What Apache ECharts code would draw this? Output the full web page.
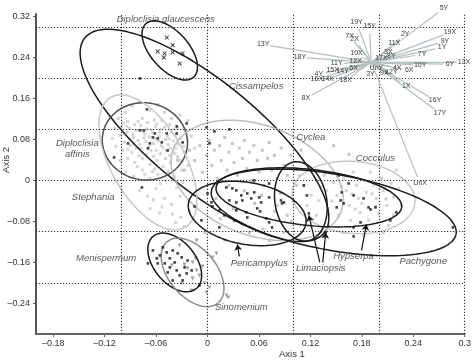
<!DOCTYPE html>
<html>
<head>
<meta charset="utf-8">
<script src="https://cdn.jsdelivr.net/npm/echarts@6/dist/echarts.min.js"></script>
<style>html,body{margin:0;padding:0;background:#fff}#c{width:474px;height:361px}</style>
</head>
<body>
<div id="c"></div>
<script>
// ---------- axes ----------
const xTicks = [-0.18, -0.12, -0.06, 0, 0.06, 0.12, 0.18, 0.24, 0.3];
const yTicks = [-0.24, -0.16, -0.08, 0, 0.08, 0.16, 0.24, 0.32];
const gridX = [-0.1, 0, 0.1, 0.2, 0.3];
const gridY = [-0.2, -0.1, 0, 0.1, 0.2, 0.3];

// ---------- point groups (Axis 1, Axis 2) ----------
const lightPts = [[-0.104,0.121],[-0.096,0.133],[-0.088,0.145],[-0.079,0.152],[-0.067,0.137],[-0.058,0.148],[-0.050,0.133],[-0.042,0.121],[-0.032,0.127],[-0.023,0.117],
[-0.108,0.102],[-0.100,0.105],[-0.093,0.115],[-0.085,0.109],[-0.076,0.121],[-0.070,0.113],[-0.061,0.105],[-0.053,0.117],[-0.044,0.109],[-0.035,0.102],[-0.025,0.094],
[-0.111,0.082],[-0.102,0.088],[-0.094,0.094],[-0.086,0.084],[-0.081,0.078],[-0.073,0.090],[-0.065,0.098],[-0.056,0.086],[-0.049,0.080],[-0.042,0.094],[-0.032,0.082],[-0.019,0.086],
[-0.107,0.066],[-0.099,0.059],[-0.090,0.068],[-0.083,0.063],[-0.076,0.055],[-0.068,0.066],[-0.060,0.059],[-0.052,0.064],[-0.044,0.049],[-0.037,0.063],[-0.027,0.055],[-0.015,0.063],
[-0.102,0.039],[-0.093,0.043],[-0.085,0.035],[-0.076,0.043],[-0.067,0.031],[-0.059,0.039],[-0.052,0.027],[-0.043,0.035],[-0.032,0.039],[-0.023,0.029],
[-0.095,0.016],[-0.086,0.008],[-0.076,0.020],[-0.067,0.004],[-0.058,0.012],[-0.049,0],[-0.039,0.008],[-0.029,-0.004],
[-0.079,-0.020],[-0.070,-0.031],[-0.060,-0.016],[-0.050,-0.035],[-0.042,-0.047],[-0.032,-0.031],[-0.021,-0.059],[-0.056,-0.063],[-0.037,-0.082],[-0.067,-0.055],[-0.027,-0.090],[-0.046,-0.098],
[-0.098,0.112],[-0.091,0.101],[-0.083,0.098],[-0.078,0.107],[-0.071,0.100],[-0.064,0.093],[-0.059,0.110],[-0.054,0.100],[-0.047,0.087],[-0.039,0.100],
[-0.097,0.075],[-0.090,0.081],[-0.079,0.070],[-0.072,0.076],[-0.063,0.072],[-0.057,0.077],[-0.046,0.070],[-0.040,0.077],[-0.034,0.071],[-0.028,0.067],
[-0.088,0.054],[-0.080,0.048],[-0.071,0.050],[-0.063,0.047],[-0.055,0.052],[-0.048,0.058],[-0.040,0.056],[-0.035,0.046],[-0.030,0.020],[-0.062,0.022],
[-0.094,0.106],[-0.087,0.090],[-0.081,0.115],[-0.075,0.096],[-0.068,0.085],[-0.062,0.118],[-0.056,0.094],[-0.050,0.104],[-0.045,0.081],[-0.037,0.088],
[-0.093,0.061],[-0.086,0.072],[-0.078,0.062],[-0.074,0.083],[-0.066,0.058],[-0.061,0.081],[-0.054,0.068],[-0.049,0.043],[-0.043,0.063],[-0.038,0.052],
[-0.082,0.027],[-0.073,0.012],[-0.064,0.017],[-0.055,-0.006],[-0.046,0.018],[-0.036,-0.014],[-0.063,-0.038],[-0.053,-0.052],[-0.041,-0.066],[-0.031,-0.072]];

const cycleaPts = [[-0.035,0.039],[-0.027,0.020],[-0.021,0.059],[-0.015,0.039],[-0.009,0.068],[-0.006,0.016],[-0.001,0.049],[0.002,0.078],[0.005,0.029],[0.008,0.059],[0.012,0.004],[0.014,0.068],[0.016,0.039],[0.020,0.084],[0.023,0.020],[0.025,0.055],[0.029,0.072],[0.031,0.035],[0.035,0.010],[0.037,0.063],[0.041,0.043],[0.043,0.078],[0.046,0.023],[0.049,0.055],[0.052,0],[0.054,0.068],[0.058,0.039],[0.060,0.016],[0.064,0.059],[0.066,-0.010],[0.070,0.043],[0.072,0.074],[0.075,0.020],[0.078,0.049],[0.081,0.004],[0.086,0.063],[0.089,0.029],[0.093,0.010],[0.097,0.049],[0.101,0.023],[0.104,-0.010],[0.109,0.059],[0.025,-0.010],[0.043,-0.020],[0.063,-0.029],[0.081,-0.049],[0.093,-0.068],[0.049,-0.102],[0.072,-0.117],[0.020,-0.117],[-0.003,-0.102],[0.089,-0.102],[0.147,0.068],[0.165,0.051],
[0.010,-0.035],[0.030,-0.055],[0.055,-0.045],[0.078,-0.060],[0.098,-0.080],[0.040,-0.085],[0.065,-0.095],[0.015,-0.075],[0.085,-0.025],[0.100,-0.040]];

const cocculusPts = [[0.107,0.010],[0.112,-0.010],[0.118,0.020],[0.121,-0.029],[0.127,0],[0.130,-0.039],[0.136,0.010],[0.139,-0.020],[0.141,-0.055],[0.147,-0.004],[0.151,-0.029],[0.153,-0.068],[0.159,0.004],[0.162,-0.020],[0.165,-0.049],[0.167,-0.078],[0.170,0.016],[0.174,-0.010],[0.176,-0.035],[0.178,-0.063],[0.182,0],[0.185,-0.023],[0.188,-0.078],[0.190,0.016],[0.194,-0.010],[0.197,-0.035],[0.199,-0.064],[0.203,0.004],[0.205,-0.020],[0.209,-0.049],[0.211,-0.088],[0.214,-0.006],[0.217,-0.033],[0.220,0.020],[0.223,-0.016],[0.226,-0.049],[0.141,-0.088],[0.159,-0.102],[0.182,-0.107],[0.205,-0.102],[0.127,-0.068],[0.116,-0.049],[0.217,-0.068],
[0.133,-0.012],[0.145,-0.040],[0.156,-0.012],[0.168,-0.027],[0.172,-0.056],[0.180,-0.045],[0.192,-0.026],[0.196,-0.051],[0.201,-0.014],[0.208,-0.036]];

const affinisBlack = [[-0.0788,0.1992],[-0.0707,0.1387],[-0.0243,0.1113],[-0.0359,0.1055],[-0.0788,0.0977],[-0.0742,0.0977],[-0.0614,0.0918],[-0.0475,0.0918],[-0.0359,0.0918],[-0.0637,0.084],[-0.058,0.082],[-0.0927,0.0723],[-0.0672,0.0723],[-0.0533,0.0742],[-0.029,0.0742],[-0.0464,0.0586],[-0.0695,0.0625],[-0.1089,0.0449],[-0.0765,-0.0137],[-0.0012,0.1035],[0.0081,0.0957],[0.0255,0.0996],[0.0023,0.0723]];

const centralBlack = [[0.022,-0.0137],[0.029,-0.0156],[0.0336,-0.0195],[0.0394,-0.0293],[0.0464,-0.0254],[0.0545,-0.0234],[0.0603,-0.0332],[0.0255,-0.0391],[0.0336,-0.043],[0.0406,-0.0391],[0.051,-0.0352],[0.0626,-0.043],[0.0719,-0.0332],[0.0046,-0.043],[0.0058,-0.0508],[0.0139,-0.0586],[0.0197,-0.0684],[0.0336,-0.0586],[0.0452,-0.0625],[0.058,-0.0547],[0.0614,-0.0605],[0.0464,-0.0723],[0.0684,-0.0742],[0.0719,-0.082],[0.0313,-0.0781],[0.0139,-0.0918],[0.0753,-0.0918],[0.0858,-0.0391],[0.0869,-0.0449],[0.1182,-0.0645],[0.1159,-0.0293],[0.1124,-0.0098],[-0.0151,-0.0508],[0,-0.0254],[-0.007,-0.078],[0.0892,-0.043],[0.0719,-0.006],[0.0545,0]];

const rightBlack = [[0.153,0.0098],[0.1646,-0.0059],[0.1565,-0.0234],[0.1553,-0.0391],[0.1588,-0.0449],[0.1507,-0.0527],[0.1704,-0.0293],[0.182,-0.0352],[0.1878,-0.0527],[0.1901,-0.0566],[0.1959,-0.0527],[0.1785,-0.082],[0.1704,-0.0918],[0.1704,-0.1094],[0.2202,-0.0625],[0.2132,-0.0781],[0.2862,-0.0918],[0.1379,-0.1016]];

const menispermumPts = [[-0.0637,-0.1367],[-0.0556,-0.1465],[-0.0475,-0.1406],[-0.0406,-0.1367],[-0.0348,-0.1426],[-0.044,-0.1523],[-0.0382,-0.1602],[-0.0301,-0.1504],[-0.0498,-0.1621],[-0.058,-0.1621],[-0.044,-0.1699],[-0.0359,-0.1758],[-0.0267,-0.1699],[-0.0232,-0.1563],[-0.0325,-0.1855],[-0.0243,-0.1816],[-0.0185,-0.1758],[-0.0406,-0.1953],[-0.029,-0.1953],[-0.0464,-0.1797],[-0.0591,-0.1523],[-0.0522,-0.1309],[-0.0695,-0.1621],[-0.0093,-0.2051]];

const sinomeniumPts = [[-0.0127,-0.1758],[-0.0093,-0.1855],[-0.0174,-0.1914],[-0.0035,-0.2012],[0.0023,-0.209],[-0.0185,-0.2148],[-0.0012,-0.2188],[0.0058,-0.1504],[0.0104,-0.1426],[0.022,-0.2246],[-0.0127,-0.1172],[-0.0325,-0.127],[-0.0174,-0.1602],[-0.0267,-0.1641],[-0.0232,-0.1719],[0.0243,-0.2285],[-0.0301,-0.2012],[-0.0417,-0.166],[-0.0139,-0.1523],[-0.0058,-0.168]];

const glaucescensPts = [[-0.0475,0.279],[-0.0406,0.264],[-0.058,0.252],[-0.050,0.248],[-0.0406,0.250],[-0.029,0.248],[-0.051,0.240],[-0.0325,0.2285]];

// ---------- group ellipses: centre + two conjugate semi-axes (data units) ----------
const ellipseNames = ['D. glaucescens','Cissampelos','D. affinis','Stephania','Cyclea','Cocculus','Hypserpa','Pachygone','Pericampylus','Limaciopsis','Menispermum','Sinomenium'];
const ellipseCenters = [[-0.044,0.2539],[-0.0035,0.0879],[-0.073,0.0762],[-0.0695,0.0352],[0.0579,0],[0.1703,-0.0332],[0.1182,-0.0332],[0.1472,-0.0625],[0.0463,-0.0645],[0.1089,-0.041],[-0.0382,-0.1602],[-0.0174,-0.1797]];
const ellipseAxisU = [[0.0279,-0.0522],[0.1396,-0.1904],[0.0491,-0.0146],[0.0435,-0.1269],[0.098,-0.0601],[0.0716,-0.0105],[0.1083,-0.0192],[0.1427,-0.0425],[0.0685,-0.0204],[0.0081,-0.077],[0.0253,-0.0509],[0.0298,-0.0598]];
const ellipseAxisV = [[-0.0164,-0.0248],[-0.0394,-0.082],[-0.0078,-0.0741],[-0.0371,-0.0361],[-0.0218,-0.101],[-0.0036,-0.070],[-0.0034,-0.0544],[-0.0077,-0.0731],[-0.0063,-0.0596],[-0.0297,-0.0088],[-0.0186,-0.0264],[-0.0213,-0.0301]];

// ---------- biplot loading vectors ----------
const vecOrigin = [0.191, 0.2305];
const vecLabels = ['5Y','19Y','15Y','7X','2X','2Y','19X','11X','9Y','1Y','13Y','3X','10X','7Y','18Y','17X','8Y','12X','11Y','6Y','13X','10Y','5X','UnY','4X','15X','6X','14Y','3Y','9X','12Y','4Y','16X','14X','18X','1X','8X','16Y','17Y','UnX'];
const vecX = [0.2758,0.1738,0.1889,0.1657,0.1715,0.2306,0.2827,0.2178,0.2769,0.2735,0.0649,0.2109,0.1738,0.2503,0.1078,0.2028,0.2144,0.1727,0.1506,0.2827,0.299,0.248,0.1703,0.197,0.2213,0.146,0.2352,0.1576,0.19,0.2063,0.2144,0.1298,0.1275,0.1402,0.1611,0.2317,0.1147,0.2654,0.2712,0.248];
const vecY = [0.336,0.3086,0.3008,0.2813,0.2754,0.2852,0.2891,0.2676,0.2715,0.2598,0.2656,0.25,0.248,0.2461,0.2402,0.2383,0.2422,0.2324,0.2285,0.2266,0.2305,0.2246,0.2188,0.2188,0.2188,0.2148,0.2148,0.2129,0.207,0.209,0.2109,0.207,0.1973,0.1973,0.1953,0.1836,0.1602,0.1563,0.1309,-0.0059];

// ---------- genus labels and pointer arrows ----------
const genusNames = ['Diploclisia glaucescens','Cissampelos','Diploclisia\naffinis','Cyclea','Cocculus','Stephania','Menispermum','Pericampylus','Limaciopsis','Hypserpa','Pachygone','Sinomenium'];
const genusX = [-0.0487,0.0568,-0.1518,0.1205,0.1958,-0.1333,-0.1182,0.0603,0.1321,0.1703,0.2515,0.0394];
const genusY = [0.3145,0.1836,0.0625,0.084,0.043,-0.0332,-0.1523,-0.1621,-0.1719,-0.1484,-0.1582,-0.248];
const pointerFrom = [[0.0371,-0.1484],[0.1796,-0.1367],[0.131,-0.160],[0.1344,-0.160]];
const pointerTo = [[0.0348,-0.125],[0.1854,-0.0859],[0.1182,-0.0684],[0.1379,-0.1016]];

// ---------- styles ----------
const FONT = "'Liberation Sans', Arial, sans-serif";
const ellipseColors = ['#1a1a1a','#1a1a1a','#4d4d4d','#c8c8c8','#bcbcbc','#c8c8c8','#1a1a1a','#1a1a1a','#1a1a1a','#1a1a1a','#1a1a1a','#8c8c8c'];

function ellipsePath(i) {
  const c = ellipseCenters[i], u = ellipseAxisU[i], v = ellipseAxisV[i];
  const pts = [];
  for (let k = 0; k <= 120; k++) {
    const t = k / 120 * Math.PI * 2;
    pts.push([c[0] + Math.cos(t) * u[0] + Math.sin(t) * v[0], c[1] + Math.cos(t) * u[1] + Math.sin(t) * v[1]]);
  }
  return pts;
}
const fmt = v => v === 0 ? '0' : (v < 0 ? '\u2013' : '') + String(Math.abs(v));

const xCross = 'path://M0,1.5L1.5,0L5,3.5L8.5,0L10,1.5L6.5,5L10,8.5L8.5,10L5,6.5L1.5,10L0,8.5L3.5,5Z';
const tri = 'path://M0,0L10,0L5,9Z';

const series = [];
series.push({
  type: 'scatter', name: 'light', data: lightPts, symbol: 'rect', symbolSize: 3,
  itemStyle: { color: '#c9cccc' }, z: 2, silent: true,
  markLine: {
    silent: true, symbol: ['none', 'none'], label: { show: false },
    lineStyle: { color: '#333', type: [1.2, 1.8], width: 1.1 },
    data: gridX.map(v => ({ xAxis: v })).concat(gridY.map(v => ({ yAxis: v })))
  }
});
series.push({ type: 'scatter', data: cycleaPts, symbol: 'rect', symbolSize: 3, itemStyle: { color: '#b5b8b8' }, z: 2, silent: true });
series.push({ type: 'scatter', data: cocculusPts, symbol: 'rect', symbolSize: 3, itemStyle: { color: '#c6c9c9' }, z: 2, silent: true });
series.push({ type: 'scatter', data: sinomeniumPts, symbol: tri, symbolSize: 4, itemStyle: { color: '#8a8a8a' }, z: 2, silent: true });
ellipseNames.forEach((n, i) => {
  series.push({
    type: 'line', name: n, data: ellipsePath(i), showSymbol: false, symbol: 'none', silent: true,
    lineStyle: { color: ellipseColors[i], width: 1.5 }, z: 3, clip: false
  });
});
series.push({ type: 'scatter', data: affinisBlack.concat(centralBlack, rightBlack, menispermumPts), symbol: 'rect', symbolSize: 2.6, itemStyle: { color: '#111' }, z: 4, silent: true });
series.push({ type: 'scatter', data: glaucescensPts, symbol: xCross, symbolSize: 4.5, itemStyle: { color: '#111' }, z: 4, silent: true });
series.push({
  type: 'lines', coordinateSystem: 'cartesian2d', z: 5, silent: true,
  symbol: ['none', 'arrow'], symbolSize: [0, 6],
  lineStyle: { color: '#111', width: 1.2, opacity: 1 },
  data: pointerFrom.map((f, i) => ({ coords: [f, pointerTo[i]] }))
});
series.push({
  type: 'custom', z: 6, clip: false, silent: true,
  data: vecX.map((x, i) => [x, vecY[i]]),
  renderItem: function (params, api) {
    const o = api.coord(vecOrigin);
    const e = api.coord([api.value(0), api.value(1)]);
    const dx = e[0] - o[0], dy = e[1] - o[1];
    const L = Math.hypot(dx, dy);
    const k = L > 9 ? (L - 7) / L : 0.3;
    return {
      type: 'group',
      children: [
        { type: 'line', shape: { x1: o[0], y1: o[1], x2: o[0] + dx * k, y2: o[1] + dy * k }, style: { stroke: '#b4c0c0', lineWidth: 1.2 } },
        { type: 'text', z2: 10, style: { text: vecLabels[params.dataIndex], x: e[0], y: e[1], align: 'center', verticalAlign: 'middle', fill: '#3a3a3a', font: '7px ' + FONT } }
      ]
    };
  }
});
series.push({
  type: 'scatter', z: 7, silent: true, symbolSize: 1, itemStyle: { color: 'transparent' },
  data: genusNames.map((n, i) => ({ name: n, value: [genusX[i], genusY[i]] })),
  label: {
    show: true, position: 'inside', formatter: p => p.name, color: '#2a2a2a',
    fontStyle: 'italic', fontSize: 9.5, fontFamily: FONT, lineHeight: 11, align: 'center'
  }
});

const chart = echarts.init(document.getElementById('c'), null, { renderer: 'canvas' });
chart.setOption({
  animation: false,
  backgroundColor: '#fff',
  grid: { left: 36, right: 7, top: 14, bottom: 27 },
  xAxis: {
    type: 'value', min: -0.2, max: 0.3, splitLine: { show: false },
    axisLine: { onZero: false, lineStyle: { color: '#666', width: 2 } },
    axisTick: { customValues: xTicks, length: 3, lineStyle: { color: '#666' } },
    axisLabel: { customValues: xTicks, formatter: fmt, fontSize: 9, color: '#333', fontFamily: FONT, margin: 5 }
  },
  yAxis: {
    type: 'value', min: -0.3, max: 0.325, splitLine: { show: false },
    axisLine: { onZero: false, lineStyle: { color: '#555', width: 2 } },
    axisTick: { customValues: yTicks, length: 3, lineStyle: { color: '#555' } },
    axisLabel: { customValues: yTicks, formatter: fmt, fontSize: 9, color: '#333', fontFamily: FONT, margin: 6 }
  },
  graphic: [
    { type: 'text', left: 279, top: 349, style: { text: 'Axis 1', font: '9.5px ' + FONT, fill: '#333' } },
    { type: 'text', x: 6, y: 160, rotation: Math.PI / 2, style: { text: 'Axis 2', font: '9.5px ' + FONT, fill: '#333', align: 'center', verticalAlign: 'middle' } }
  ],
  series: series
});
</script>
</body>
</html>
